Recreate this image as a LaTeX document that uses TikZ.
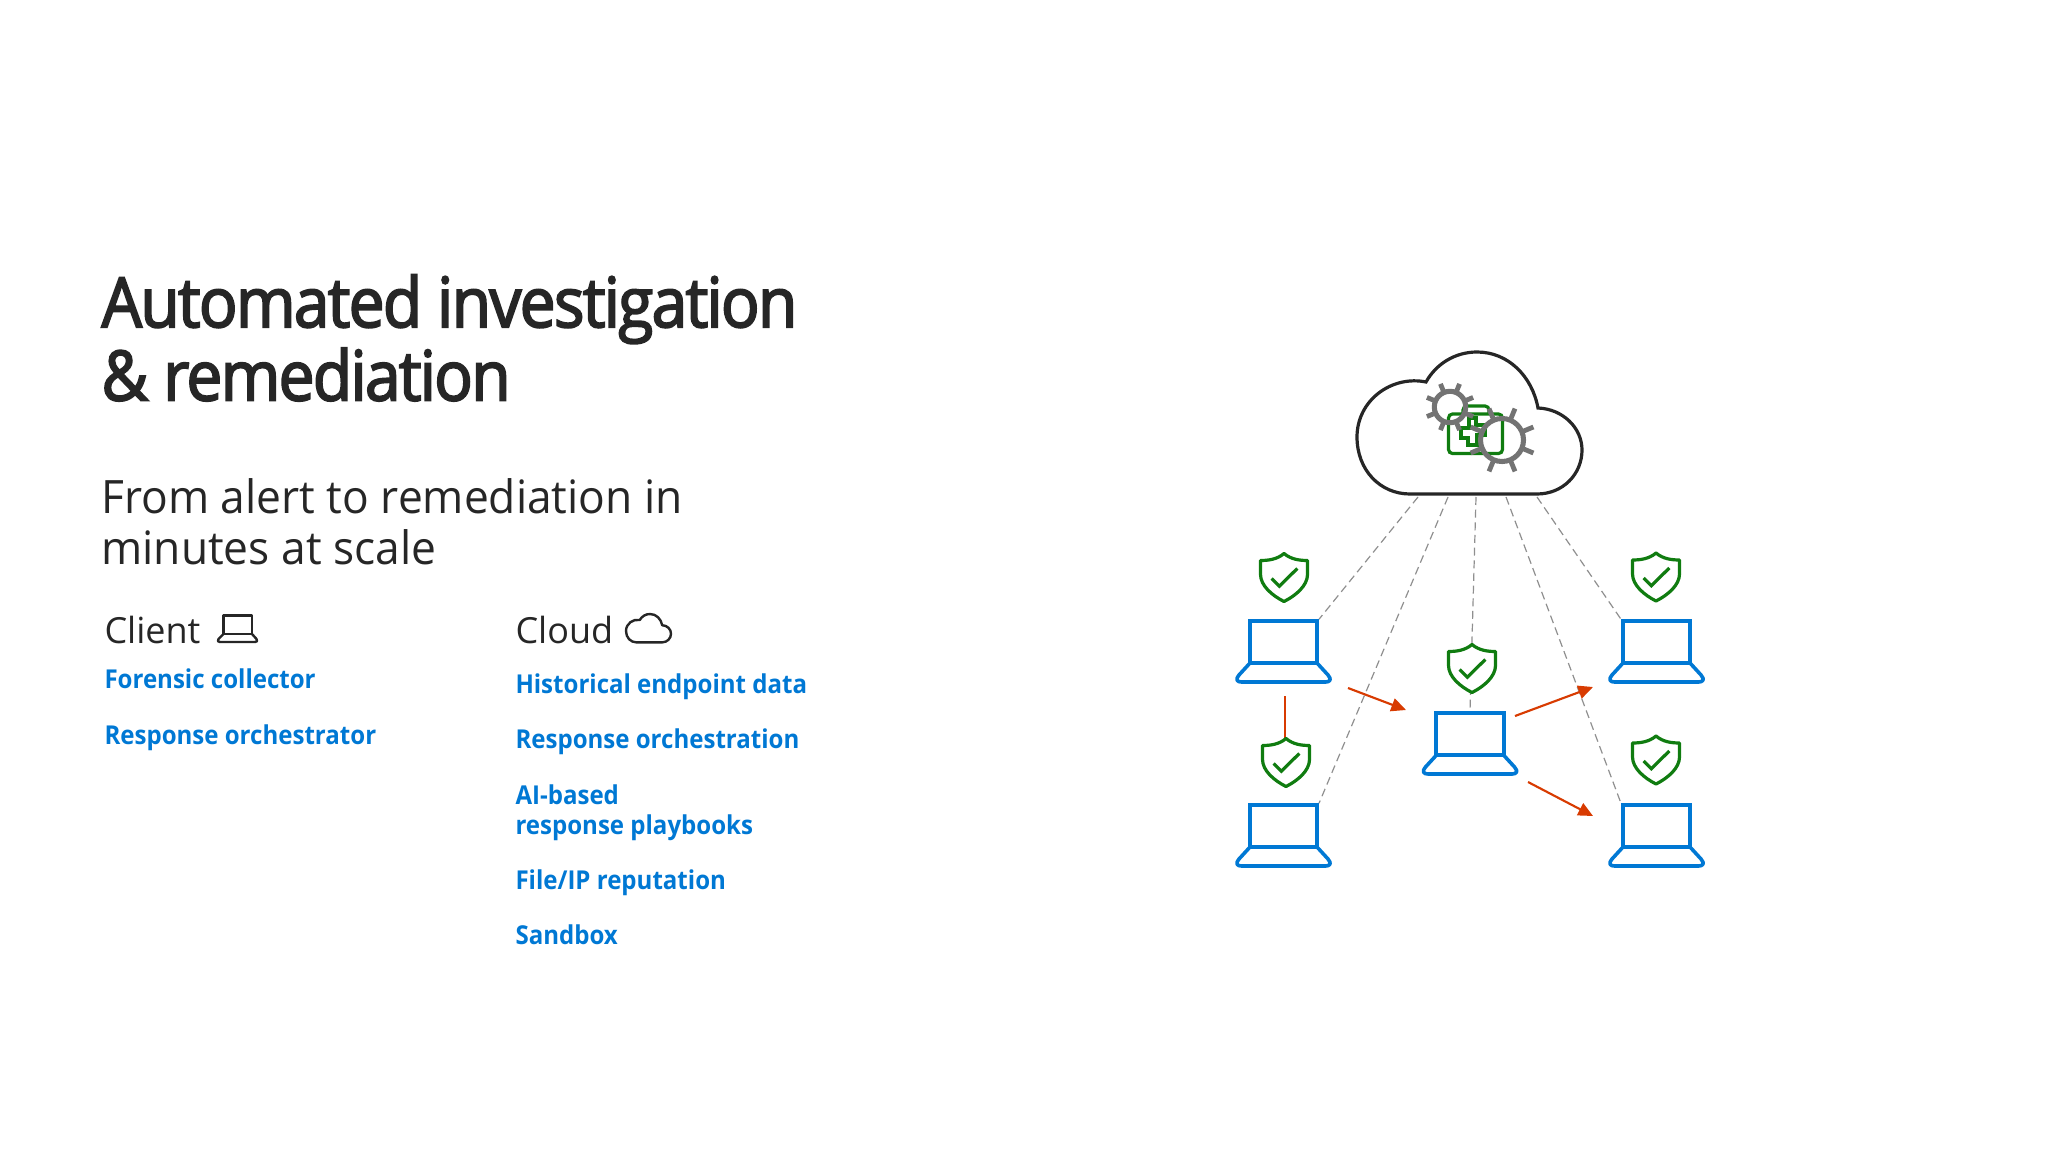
\documentclass[tikz,border=0pt]{standalone}
\usepackage{fontspec}
\setmainfont{Open Sans}
\newfontfamily\titlefont[LetterSpace=-2.5,FakeStretch=0.925,FakeBold=2.6]{Open Sans}
\newfontfamily\subfont[FakeStretch=0.963]{Open Sans}
\newfontfamily\bluefont[FakeStretch=0.925]{Open Sans}
\usetikzlibrary{arrows.meta}
\definecolor{inkdark}{HTML}{262626}
\definecolor{msblue}{HTML}{0078D4}
\definecolor{msgreen}{HTML}{107C10}
\definecolor{msred}{HTML}{D83B01}
\definecolor{gearGray}{HTML}{737373}
\definecolor{dashGray}{HTML}{8F8F8F}

\tikzset{every picture/.style={line width=0.75pt}}
\tikzset{
  textnode/.style={anchor=north west,inner sep=0.75pt,align=left},
  bluetext/.style={textnode,text=msblue,font=\bluefont\fontsize{19.5}{22.5}\selectfont\bfseries},
  headtext/.style={textnode,text=inkdark,font=\fontsize{27}{32}\selectfont},
  spoke/.style={draw=dashGray,line width=0.9pt,dash pattern=on 6pt off 3.5pt},
  flow/.style={draw=msred,line width=1.6pt,-{Triangle[length=11pt,width=10pt]}},
  iconline/.style={draw=inkdark,line width=1.8pt,line join=round},
  caseline/.style={draw=msgreen,line width=2.4pt},
  lapscreen/.style={draw=msblue,line width=2.7pt,minimum width=50.6pt,minimum height=31.5pt,inner sep=0pt},
  pics/cloudshape/.style={code={
    \path[pic actions,yscale=-1] (-67,57) -- (60,57) .. controls (86,57) and (105,37) .. (105,13) .. controls (105,-9) and (86,-28) .. (61,-29) .. controls (55,-61) and (31,-85) .. (0,-85) .. controls (-22,-85) and (-41,-73) .. (-51,-55) .. controls (-85,-62) and (-120,-37) .. (-120,0) .. controls (-120,33) and (-97,57) .. (-67,57) -- cycle;
  }},
  pics/laptop/.style={code={
    \node[lapscreen] (-screen) at (0,0) {};
    \draw[draw=msblue,line width=2.7pt,line join=round,yscale=-1] (-33.5,21) -- (-44.5,33) .. controls (-48.5,37.5) and (-46.5,40) .. (-42,40) -- (42,40) .. controls (46.5,40) and (48.5,37.5) .. (44.5,33) -- (33.5,21);
  }},
  pics/shield/.style={code={
    \coordinate (-center) at (0,0);
    \draw[draw=msgreen,fill=white,line width=2.4pt,line join=round,yscale=-1] (0,-24) .. controls (-7,-18) and (-16,-17) .. (-23.5,-17) -- (-23.5,-3) .. controls (-23.5,8) and (-12,18) .. (0,24) .. controls (12,18) and (23.5,8) .. (23.5,-3) -- (23.5,-17) .. controls (16,-17) and (7,-18) .. (0,-24) -- cycle;
    \draw[draw=msgreen,line width=2.4pt,yscale=-1] (-12.3,1) -- (-4.7,8.7) -- (13.3,-9);
  }},
  pics/gear/.style 2 args={code={
    \foreach \toothangle in {22.5,67.5,...,337.5}
      \draw[draw=gearGray,line width=3.6pt] (\toothangle:#1) -- (\toothangle:#2);
    \draw[draw=gearGray,line width=3.8pt] (0,0) circle [radius=#1];
  }},
}

\begin{document}
\begin{tikzpicture}[x=0.75pt,y=0.75pt,yscale=-1,xscale=1]
\useasboundingbox (0,0) rectangle (2048,1152);

% Text Node
\node[textnode,text=inkdark,font=\titlefont\fontsize{52}{55}\selectfont] (titleText) at (100,273) {Automated investigation\\\& remediation};
% Text Node
\node[textnode,text=inkdark,font=\subfont\fontsize{34.5}{38.5}\selectfont] (subText) at (100,477) {From alert to remediation in\\minutes at scale};
% Text Node
\node[headtext] (clientHead) at (103,615) {Client};
\node[headtext] (cloudHead) at (514,615) {Cloud};
% Text Node
\node[bluetext] (clientA) at (103,667) {Forensic collector};
\node[bluetext] (clientB) at (103,723) {Response orchestrator};
% Text Node
\node[bluetext] (cloudA) at (514,672) {Historical endpoint data};
\node[bluetext] (cloudB) at (514,727) {Response orchestration};
\node[bluetext] (cloudC) at (514,783) {AI-based\\response playbooks};
\node[bluetext] (cloudD) at (514,868) {File/IP reputation};
\node[bluetext] (cloudE) at (514,923) {Sandbox};

%Client icon
\draw[iconline] (223.5,615.5) rectangle (252,634);
\draw[iconline] (223.5,634) -- (218.5,639) .. controls (217,641) and (218,642) .. (220,642) -- (255,642) .. controls (257,642) and (258,641) .. (256.5,639) -- (252,634);
%Cloud icon
\pic[iconline,scale=0.2] (cloudIcon) at (650,631) {cloudshape};

%Big cloud
\pic[draw=inkdark,line width=2.4pt] (mainCloud) at (1477,437) {cloudshape};
\coordinate (spokeA) at (1418,497);
\coordinate (spokeB) at (1448,497);
\coordinate (spokeC) at (1476,497);
\coordinate (spokeD) at (1506,497);
\coordinate (spokeE) at (1537,497);

%Case in the cloud
\draw[caseline,rounded corners=3pt] (1463,413) -- (1463,406) -- (1489,406) -- (1489,413);
\draw[caseline,rounded corners=3pt] (1448.5,414) rectangle (1502.5,453.5);
\draw[caseline,line join=miter] (1469,418) -- (1476,418) -- (1476,425) -- (1485,425) -- (1485,435) -- (1477,435) -- (1477,445) -- (1468,445) -- (1468,438) -- (1461,438) -- (1461,428) -- (1469,428) -- cycle;
\pic (gearSmall) at (1450,407) {gear={15.7}{25}};
\pic (gearLarge) at (1502,440) {gear={21.5}{34}};

%Laptops
\pic (lapA) at (1283.5,642) {laptop};
\pic (lapB) at (1283.5,826) {laptop};
\pic (lapC) at (1470,734) {laptop};
\pic (lapD) at (1656.5,642) {laptop};
\pic (lapE) at (1656.5,826) {laptop};

% Connection
\draw[spoke] (spokeA) -- (lapA-screen.north east);
\draw[spoke] (spokeB) -- (lapB-screen.north east);
\draw[spoke] (spokeC) -- (lapC-screen.north);
\draw[spoke] (spokeD) -- (lapE-screen.north west);
\draw[spoke] (spokeE) -- (lapD-screen.north west);

%Red flow
\coordinate (flowStartA) at (1285,696);
\coordinate (flowEndA) at (1285,740);
\coordinate (flowStartB) at (1348,688);
\coordinate (flowEndB) at (1406,710);
\coordinate (flowStartC) at (1515,716);
\coordinate (flowEndC) at (1593,687);
\coordinate (flowStartD) at (1528,782);
\coordinate (flowEndD) at (1593,816);
\draw[draw=msred,line width=1.6pt] (flowStartA) -- (flowEndA);
\draw[flow] (flowStartB) -- (flowEndB);
\draw[flow] (flowStartC) -- (flowEndC);
\draw[flow] (flowStartD) -- (flowEndD);

%Shields
\pic (shieldA) at (1284,577.5) {shield};
\pic (shieldB) at (1286,762.5) {shield};
\pic (shieldC) at (1472,668.5) {shield};
\pic (shieldD) at (1656,577) {shield};
\pic (shieldE) at (1656,760) {shield};

\end{tikzpicture}
\end{document}
